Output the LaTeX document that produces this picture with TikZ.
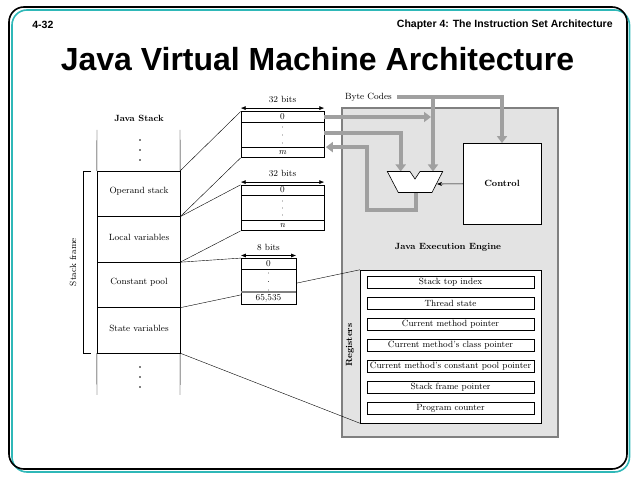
\documentclass[tikz,border=0pt]{standalone}
\usepackage{fontspec}
\newfontfamily\arialfont{Liberation Sans}
\usetikzlibrary{arrows.meta}
\definecolor{tealc}{HTML}{2FB8B8}
\definecolor{agray}{HTML}{A0A0A0}
\definecolor{pfill}{HTML}{E3E3E3}
\definecolor{pdraw}{HTML}{808080}
\pgfdeclarelayer{back}
\pgfdeclarelayer{mid}
\pgfsetlayers{back,mid,main}
\begin{document}
\begin{tikzpicture}[x=1pt,y=-1pt,line width=0.7pt,
  dfont/.style={font=\fontsize{9}{10}\selectfont},
  lbl/.style={dfont,inner sep=0pt},
  blbl/.style={inner sep=0pt,font=\fontsize{9}{10}\selectfont\bfseries},
  stackrow/.style={draw,minimum width=83pt,minimum height=45.5pt,inner sep=0pt},
  cell/.style={draw,fill=white,inner sep=0pt,dfont},
  wide/.style={cell,minimum width=83.3pt},
  narrow/.style={cell,minimum width=55pt},
  dimarr/.style={{Latex[length=5pt,width=4pt]}-{Latex[length=5pt,width=4pt]},line width=0.6pt},
  garrow/.style={draw=agray,line width=4pt,-{Triangle[length=7pt,width=10pt]}},
  regitem/.style={cell,minimum width=167pt,minimum height=11.6pt},
  hdr/.style={inner sep=0pt,font=\arialfont\bfseries\fontsize{10.5}{12}\selectfont}
]
\useasboundingbox (0,0) rectangle (638,478);

% slide border
\draw[tealc,line width=1.6pt,rounded corners=15pt] (12,10) rectangle (629.5,472);
\draw[line width=1.6pt,rounded corners=15pt] (9,7) rectangle (627,469);

% header and title
\node[hdr,anchor=west] (pg) at (32,25) {4-32};
\node[hdr,anchor=east] (ch) at (613,25) {Chapter 4: The Instruction Set Architecture};
\node[inner sep=0pt,font=\arialfont\bfseries\fontsize{32}{36}\selectfont] (title) at (317.5,59) {Java Virtual Machine Architecture};

% execution engine panel
\begin{pgfonlayer}{back}
\node[draw=pdraw,fill=pfill,line width=1.3pt,minimum width=216pt,minimum height=329pt,inner sep=0pt] (jee) at (450,272.5) {};
\end{pgfonlayer}

% Java stack
\node[blbl] (jsl) at (139,118) {Java Stack};
\node[stackrow] (os) at (138.5,193.75) {};
\node[stackrow] (lv) at (138.5,239.25) {};
\node[stackrow] (cp) at (138.5,284.75) {};
\node[stackrow] (sv) at (138.5,330.25) {};
\node[lbl] (osl) at (139,191) {Operand stack};
\node[lbl] (lvl) at (139,237) {Local variables};
\node[lbl] (cpl) at (139,282) {Constant pool};
\node[lbl] (svl) at (139,328) {State variables};
\coordinate (stl) at (97,130);
\coordinate (str) at (180,130);
\coordinate (sbl) at (97,395);
\coordinate (sbr) at (180,395);
\draw (os.north west) -- (stl);
\draw (os.north east) -- (str);
\draw (sv.south west) -- (sbl);
\draw (sv.south east) -- (sbr);
\foreach \y in {140,150,160,367,377,387} \fill (140,\y) circle (0.9);

% stack frame bracket
\coordinate (sft) at (91,171);
\coordinate (sfb) at (91,353);
\draw (sft) -- (83,171) -- (83,353) -- (sfb);
\node[lbl,rotate=90] (sfl) at (73,262) {Stack frame};

% box 1 (32 bits)
\node[wide,minimum height=10.6pt] (b1a) at (282.5,117) {0};
\node[wide,minimum height=25pt] (b1b) at (282.5,134.8) {};
\node[wide,minimum height=10.4pt] (b1c) at (282.5,152.5) {\textit{m}};
\foreach \y in {127,135,143} \fill (282.5,\y) circle (0.45);
\draw[dimarr] ([yshift=3.4pt]b1a.north west) -- ([yshift=3.4pt]b1a.north east);
\node[lbl] (b1l) at ([yshift=11.7pt]b1a.north) {32 bits};

% box 2 (32 bits)
\node[wide,minimum height=10pt] (b2a) at (282.5,190) {0};
\node[wide,minimum height=25pt] (b2b) at (282.5,207.5) {};
\node[wide,minimum height=10.7pt] (b2c) at (282.5,225.35) {\textit{n}};
\foreach \y in {201,208,215} \fill (282.5,\y) circle (0.45);
\draw[dimarr] ([yshift=2.7pt]b2a.north west) -- ([yshift=2.7pt]b2a.north east);
\node[lbl] (b2l) at ([yshift=11.7pt]b2a.north) {32 bits};

% box 3 (8 bits)
\node[narrow,minimum height=11pt] (b3a) at (268.5,263.8) {0};
\node[narrow,minimum height=23.2pt] (b3b) at (268.5,280.9) {};
\node[narrow,minimum height=11.5pt] (b3c) at (268.5,298.25) {65,535};
\draw[gray,line width=1.6pt] (b3c.north west) -- (b3c.north east);
\foreach \y in {273,281.5,290} \fill (268.5,\y) circle (0.45);
\draw[dimarr] ([yshift=2.6pt]b3a.north west) -- ([yshift=2.6pt]b3a.north east);
\node[lbl] (b3l) at ([yshift=11pt]b3a.north) {8 bits};

% registers
\node[draw,fill=white,minimum width=181pt,minimum height=153pt,inner sep=0pt] (regs) at (450.5,346.5) {};
\node[blbl,rotate=90] (regl) at (350,345) {Registers};
\node[regitem] (r1) at (450.5,282.5) {Stack top index};
\node[regitem] (r2) at (450.5,303.5) {Thread state};
\node[regitem] (r3) at (450.5,324.5) {Current method pointer};
\node[regitem] (r4) at (450.5,345.5) {Current method's class pointer};
\node[regitem] (r5) at (450.5,366.5) {Current method's constant pool pointer};
\node[regitem] (r6) at (450.5,387.5) {Stack frame pointer};
\node[regitem] (r7) at (450.5,408.5) {Program counter};

% control and labels
\node[draw,fill=white,minimum width=77.4pt,minimum height=81pt,blbl] (ctrl) at (502,183.8) {Control};
\node[blbl] (jeel) at (448,247.5) {Java Execution Engine};
\node[lbl] (bc) at (368.5,97) {Byte Codes};

% expansion connectors
\begin{pgfonlayer}{mid}
\draw (os.north east) -- (b1a.north west);
\draw (os.south east) -- (b1c.south west);
\draw (os.south east) -- (b2a.north west);
\draw (lv.south east) -- (b2c.south west);
\draw (lv.south east) -- (b3a.north west);
\draw (cp.south east) -- (regs.north west);
\draw (sv.south east) -- (regs.south west);
\end{pgfonlayer}

% data paths
\coordinate (bcj) at (433,98);
\coordinate (alul) at (400.7,171.5);
\coordinate (alur) at (433,171.5);
\coordinate (aluo) at (416,192.5);
\coordinate (alue) at (437,184);
\coordinate (fb1) at (416,210);
\coordinate (fb2) at (367,210);
\draw[garrow] ([xshift=5pt]bc.east) -| (ctrl.north);
\draw[garrow] (bcj) -- (alur);
\draw[garrow,shorten >=2pt] (b1a.east) -- (bcj |- b1a.east);
\draw[garrow] ([yshift=2pt]b1b.east) -| (alul);
\draw[garrow,shorten >=1.5pt] (aluo) -- (fb1) -- (fb2) -- (fb2 |- b1c.north east) -- (b1c.north east);

% ALU
\draw[fill=white,line width=0.6pt] (387.3,171.5) -- (410,171.5) -- (415,179) -- (420,171.5) -- (442.7,171.5) -- (432,192.5) -- (398.3,192.5) -- cycle;
\draw[-{Stealth[length=5pt,width=4pt]},line width=0.6pt] (ctrl.west) -- (alue);
\end{tikzpicture}
\end{document}
